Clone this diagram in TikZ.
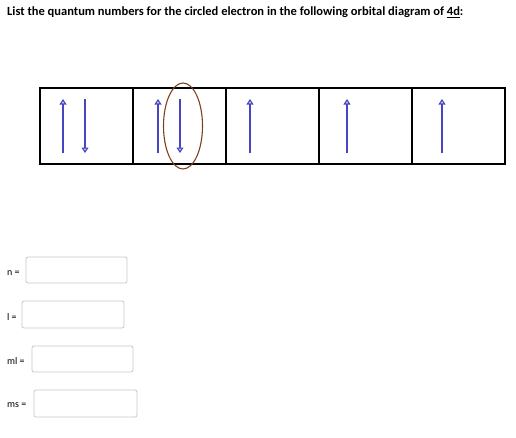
\documentclass[tikz,border=0pt]{standalone}
\usepackage{fontspec}
\setmainfont{Carlito}
\usepackage{xcolor}
\usetikzlibrary{arrows.meta}

\definecolor{spinblue}{RGB}{70,70,190}
\definecolor{circbrown}{RGB}{125,65,30}
\definecolor{fieldgray}{RGB}{200,200,200}

\tikzset{
  orbital/.style={draw=black, line width=1.3pt, minimum width=93pt, minimum height=76pt, inner sep=0pt},
  spin/.style={draw=spinblue, line width=1.1pt, -{Triangle[length=5.5pt, width=7pt, fill=spinblue!25]}},
  field/.style={draw=fieldgray, line width=0.8pt, rounded corners=2pt, inner sep=0pt, anchor=north west},
  qlabel/.style={font=\fontsize{10}{12}\selectfont, anchor=west, inner sep=0pt}
}

\begin{document}
\begin{tikzpicture}[x=1pt, y=-1pt]
        \useasboundingbox[fill=white] (0,0) rectangle (516,437);

        % --- Question ---
        \node[anchor=west, inner sep=0pt, font=\bfseries\fontsize{12.5}{15}\selectfont] (question) at (7,12)
            {List the quantum numbers for the circled electron in the following orbital diagram of \underline{4d}:};

        % --- Orbital Boxes ---
        \node[orbital] (orb1) at (86.5,126) {};
        \node[orbital] (orb2) at (179.5,126) {};
        \node[orbital] (orb3) at (272.5,126) {};
        \node[orbital] (orb4) at (365.5,126) {};
        \node[orbital] (orb5) at (458.5,126) {};

        % Electrons in the boxes
        \draw[spin] (63,153) -- (63,99);
        \draw[spin] (85,99) -- (85,153);
        \draw[spin] (158,153) -- (158,99);
        \draw[spin] (180,99) -- (180,153);
        \draw[spin] (250,153) -- (250,99);
        \draw[spin] (347,153) -- (347,99);
        \draw[spin] (442,153) -- (442,99);

        % Circled electron
        \draw[circbrown, line width=1.1pt] (183,126) ellipse (19.5pt and 43pt);

        % --- Answer Fields ---
        \node[qlabel] (nlab) at (7,273) {n =};
        \draw[field] (26,257) rectangle (127,283);
        \node[qlabel] (llab) at (7,317) {l =};
        \draw[field] (22,301) rectangle (124,328);
        \node[qlabel] (mllab) at (7,361) {ml =};
        \draw[field] (32,346) rectangle (133,372);
        \node[qlabel] (mslab) at (7,405) {ms =};
        \draw[field] (34,390) rectangle (137,417);
    \end{tikzpicture}
\end{document}
